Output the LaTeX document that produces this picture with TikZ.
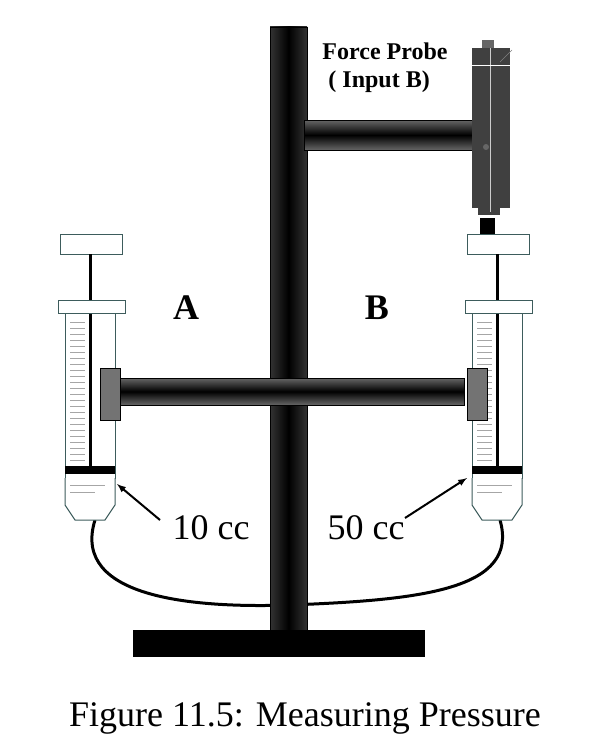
\documentclass[tikz,border=0pt]{standalone}
\usepackage{fontspec}
\setmainfont{Liberation Serif}
\begin{document}
\begin{tikzpicture}[x=1pt,y=-1pt,
  rodv/.style={draw=black,left color=black!80,right color=black!80,middle color=black},
  rodh/.style={draw=black,top color=black!60,bottom color=black!60,middle color=black},
  pale/.style={draw=red!40!cyan!60!black,fill=white,line width=1pt},
  tick/.style={draw=gray!70,line width=0.6pt},
  lbl/.style={font=\bfseries\fontsize{36}{38}\selectfont},
  cc/.style={font=\fontsize{36}{38}\selectfont},
  arr/.style={-latex,line width=2pt}]
\useasboundingbox (0,0) rectangle (612,752);
% tube
\draw[line width=3pt] (95,520) .. controls (70,600) and (200,608) .. (290,605) .. controls (420,600) and (520,590) .. (500,520);
% pole & base
\path[rodv] (270,27) rectangle (307,630) coordinate (pole);
\fill (133,630) rectangle (425,657) coordinate (base);
\path[rodh] (304,120) rectangle (476,150);
\path[rodh] (116,378) rectangle (464,405);
% force probe
\fill[black!75] (472,48) rectangle (510,208);
\fill[black!75] (478,205) rectangle (500,215);
\draw[gray!40] (490,48) -- (490,212);
\draw[white] (468,65) -- (512,65);
\draw[gray] (500,62) -- (512,50);
\fill[black!60] (482,40) rectangle (494,48);
\fill[black!60] (486,147) circle (3);
\fill (480,218) rectangle (495,240);
% syringes
\foreach \cx/\side in {90/1,497/-1}{
  \draw[pale] (\cx-30,234) rectangle (\cx+32,254);
  \draw[pale] (\cx-25,313) rectangle (\cx+25,478);
  \foreach \yy in {322,328,...,462} \draw[tick] (\cx-20,\yy) -- (\cx-5,\yy);
  \draw[pale] (\cx-25,478) -- (\cx-25,505) -- (\cx-15,520) -- (\cx+15,520) -- (\cx+25,505) -- (\cx+25,478);
  \draw[tick] (\cx-20,485) -- (\cx+15,485) (\cx-20,492) -- (\cx+5,492);
  \draw[line width=3pt] (\cx,254) -- (\cx,470);
  \fill (\cx-25,466) rectangle (\cx+25,474);
  \draw[pale] (\cx-32,300) rectangle (\cx+35,313);
  \draw[black,fill=black!55] (\cx+\side*10,368) rectangle (\cx+\side*30,420);
}
% labels
\node[lbl] (A) at (186,308) {A};
\node[lbl] (B) at (377,308) {B};
\node[font=\bfseries\fontsize{24}{28}\selectfont,align=left] (fp) at (385,68) {Force Probe\\\ ( Input B)};
\node[cc] (c10) at (211,528) {10 cc};
\node[cc] (c50) at (366,528) {50 cc};
\coordinate (t10) at (117,484);
\coordinate (t50) at (467,478);
\coordinate (s10) at (160,520);
\coordinate (s50) at (405,518);
\draw[arr] (s10) -- (t10);
\draw[arr] (s50) -- (t50);
\node[font=\fontsize{36}{38}\selectfont] (cap) at (305,718) {Figure 11.5: Measuring Pressure};
\end{tikzpicture}
\end{document}
